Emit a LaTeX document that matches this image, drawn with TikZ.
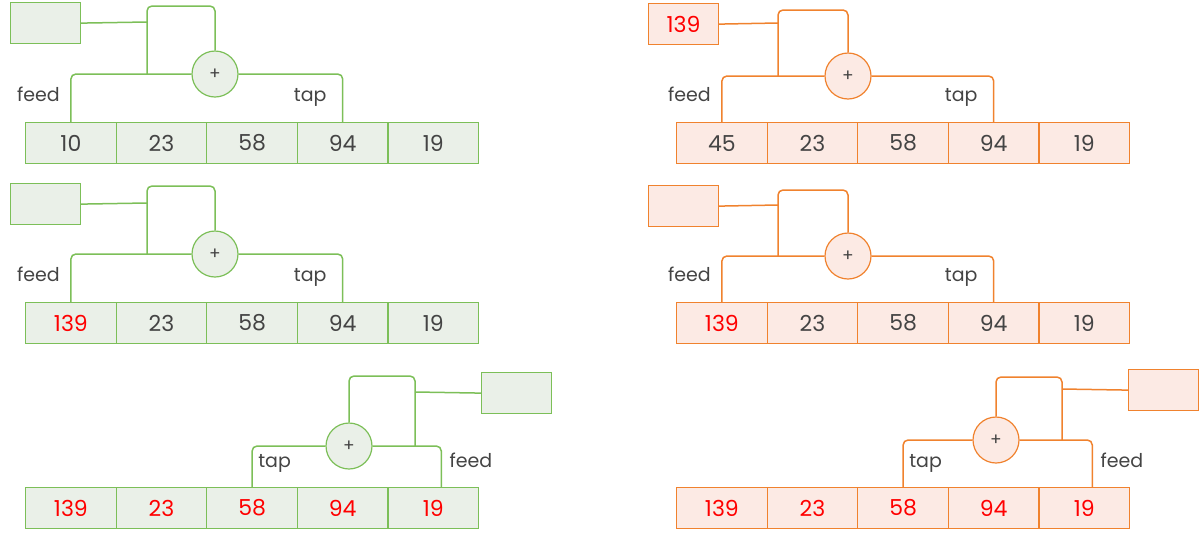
\documentclass[tikz,border=0pt]{standalone}
\usepackage{fontspec}
\setmainfont{Poppins}
\begin{document}
\begin{tikzpicture}[x=1pt,y=-1pt,
  cellbox/.style={draw=lc,fill=fc,line width=1.2pt,minimum width=90.6pt,minimum height=41pt,inner sep=0pt,anchor=north west,font=\fontsize{22}{22}\selectfont},
  regbox/.style={draw=lc,fill=fc,line width=1.2pt,minimum width=70pt,minimum height=41pt,inner sep=0pt,anchor=north west,font=\fontsize{22}{22}\selectfont,text=red},
  adder/.style={circle,draw=lc,fill=fc,line width=1.2pt,minimum size=46pt,inner sep=0pt,font=\fontsize{17}{17}\selectfont,text=txt},
  wire/.style={draw=lc,line width=1.5pt,rounded corners=5pt},
  lbl/.style={font=\fontsize{19}{19}\selectfont,text=txt,inner sep=0pt}]
\definecolor{txt}{HTML}{444444}
\definecolor{gl}{HTML}{7CBF58}\definecolor{gf}{HTML}{EAF0E8}
\definecolor{ol}{HTML}{F0822E}\definecolor{of}{HTML}{FCEAE4}
\useasboundingbox (0,0) rectangle (1200,539);
\newcommand\cells[3]{%
  \foreach \v/\c [count=\i] in \vals
    \node[cellbox,text=\c] (#1c\i) at ({#2+90.6*(\i-1)},#3) {\v};}
\newcommand\toppanel[9]{%
  \cells{#1}{#2}{#3}
  \node[adder] (#1p) at (#4,#5) {+};
  \node[regbox] (#1r) at (#8,#9) {\boxtext};
  \draw[wire] (#1c1.north) |- (#1p.west);
  \draw[wire] (#1p.east) -| (#1c4.north);
  \coordinate (#1j) at (#6,#5);
  \draw[wire] (#1j) |- (#1p.north |- 0,#7) -- (#1p.north);
  \coordinate (#1k) at (#6,{#9+20});
  \draw[wire] (#1r.east) -- (#1k);
  \node[lbl,anchor=base east] (#1f) at ([xshift=-11pt,yshift=21pt]#1c1.north) {feed};
  \node[lbl,anchor=base east] (#1t) at ([xshift=-16pt,yshift=21pt]#1c4.north) {tap};}
\newcommand\botpanel[9]{%
  \cells{#1}{#2}{#3}
  \node[adder] (#1p) at (#4,#5) {+};
  \node[regbox] (#1r) at (#8,#9) {\boxtext};
  \coordinate (#1f5) at ([xshift=8pt]#1c5.north);
  \draw[wire] (#1c3.north) |- (#1p.west);
  \draw[wire] (#1p.east) -| (#1f5);
  \coordinate (#1j) at (#6,#5);
  \draw[wire] (#1j) |- (#1p.north |- 0,#7) -- (#1p.north);
  \coordinate (#1k) at (#6,{#9+20});
  \draw[wire] (#1r.west) -- (#1k);
  \node[lbl,anchor=base west] (#1t) at ([xshift=6pt,yshift=20pt]#1c3.north) {tap};
  \node[lbl,anchor=base west] (#1f) at ([xshift=8pt,yshift=20pt]#1f5) {feed};}
\colorlet{lc}{gl}\colorlet{fc}{gf}
\def\boxtext{}
\def\vals{10/txt,23/txt,58/txt,94/txt,19/txt}
\toppanel{a}{25}{122}{215}{74}{147}{6}{10}{2}
\def\vals{139/red,23/txt,58/txt,94/txt,19/txt}
\toppanel{b}{25}{302}{215}{254}{147}{186}{10}{183}
\def\vals{139/red,23/red,58/red,94/red,19/red}
\botpanel{c}{25}{487}{349}{446}{415}{376}{481}{372}
\colorlet{lc}{ol}\colorlet{fc}{of}
\def\boxtext{139}
\def\vals{45/txt,23/txt,58/txt,94/txt,19/txt}
\toppanel{d}{676}{122}{848}{76}{778}{10}{648}{3}
\def\boxtext{}
\def\vals{139/red,23/txt,58/txt,94/txt,19/txt}
\toppanel{e}{676}{302}{848}{256}{778}{190}{648}{185}
\def\vals{139/red,23/red,58/red,94/red,19/red}
\botpanel{f}{676}{487}{996}{440}{1062}{377}{1128}{369}
\end{tikzpicture}
\end{document}
